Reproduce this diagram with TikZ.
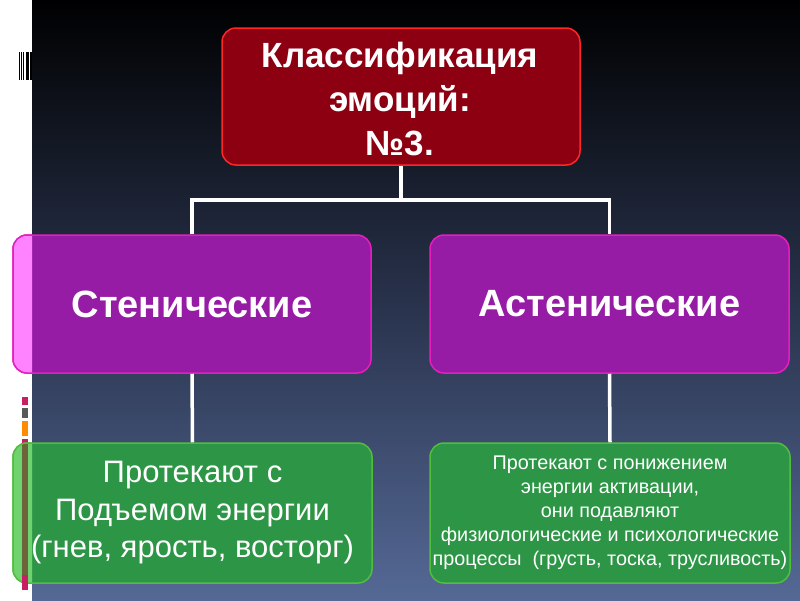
\documentclass[tikz,border=0pt]{standalone}
\usepackage{fontspec}
\setmainfont{Liberation Sans}
\definecolor{cRedF}{RGB}{140,0,18}
\definecolor{cPurD}{RGB}{230,30,190}
\definecolor{cPurF}{RGB}{150,28,165}
\definecolor{cPurL}{RGB}{255,130,255}
\definecolor{cGrnD}{RGB}{80,190,60}
\definecolor{cGrnF}{RGB}{45,150,70}
\definecolor{cGrnL}{RGB}{110,210,110}
\definecolor{cBgMid}{RGB}{40,50,75}
\definecolor{cBgBot}{RGB}{85,105,150}
\definecolor{cMag}{RGB}{200,30,100}
\definecolor{cBrn}{RGB}{110,100,60}
\begin{document}
\begin{tikzpicture}[x=1pt,y=-1pt,
  redbox/.style={draw=red!85!white,line width=1.5pt,fill=cRedF,rounded corners=14pt},
  purbox/.style={draw=cPurD,line width=1.5pt,fill=cPurF,rounded corners=14pt},
  grnbox/.style={draw=cGrnD,line width=1.5pt,fill=cGrnF,rounded corners=14pt},
  conn/.style={draw=white,line width=3.5pt},
  txt/.style={text=white,align=center,inner sep=0pt}]
\useasboundingbox (0,0) rectangle (800,600);
\fill[white] (0,0) rectangle (800,600);
\shade[top color=black,bottom color=cBgBot,middle color=cBgMid] (32,0) rectangle (800,600);
% decorations
\foreach \x/\w in {19/1,21/0.6,23/1.2,25.5/0.6,27/1.5,29.5/1,31/1}{\fill[black] (\x,52) rectangle (\x+\w,80);}
\fill[cMag] (22,397) rectangle (28,405);
\fill[gray!70!black] (22,408) rectangle (28,418);
\fill[orange!90!yellow] (22,421) rectangle (28,436);
\fill[cMag] (22,439) rectangle (28,446);
% boxes
\node[redbox,minimum width=358pt,minimum height=137pt] (top) at (401,96.5) {};
\node[purbox,minimum width=358pt,minimum height=138pt] (st) at (192,304) {};
\node[purbox,minimum width=359pt,minimum height=138pt] (ast) at (609.5,304) {};
\node[grnbox,minimum width=359pt,minimum height=140pt] (bl) at (192.5,513) {};
\node[grnbox,minimum width=360pt,minimum height=140pt] (br) at (610,513) {};
\begin{scope}
\clip (0,0) rectangle (32,600);
\fill[cPurL,rounded corners=14pt] (13,235) rectangle (371,373);
\fill[cGrnL,rounded corners=14pt] (13,443) rectangle (372,583);
\fill[cBrn] (22,443) rectangle (28,590);
\draw[cPurD,line width=1.5pt,rounded corners=14pt] (13,235) rectangle (371,373);
\draw[cGrnD,line width=1.5pt,rounded corners=14pt] (13,443) rectangle (372,583);
\end{scope}
\fill[cMag] (22,575) rectangle (28,590);
% texts
\node[txt,font=\bfseries\fontsize{35}{44}\selectfont] at (400,99) {Классификация\\эмоций:\\№3.};
\node[txt,font=\bfseries\fontsize{38}{44}\selectfont] at (st) {Стенические};
\node[txt,font=\bfseries\fontsize{38}{44}\selectfont] at (ast) {Астенические};
\node[txt,font=\fontsize{31}{37.5}\selectfont] at (bl) {Протекают с\\Подъемом энергии\\(гнев, ярость, восторг)};
\node[txt,font=\fontsize{19.8}{24}\selectfont] at (br) {Протекают с понижением\\энергии активации,\\они подавляют\\физиологические и психологические\\процессы\ \ (грусть, тоска, трусливость)};
% connectors
\coordinate (j) at (top.south |- 0,200);
\draw[conn] (top.south) -- (j);
\draw[conn] (st.north) -- (st.north |- j) -- (ast.north |- j) -- (ast.north);
\draw[conn] (st.south) -- (bl.north);
\draw[conn] (ast.south) -- (br.north);
\end{tikzpicture}
\end{document}
